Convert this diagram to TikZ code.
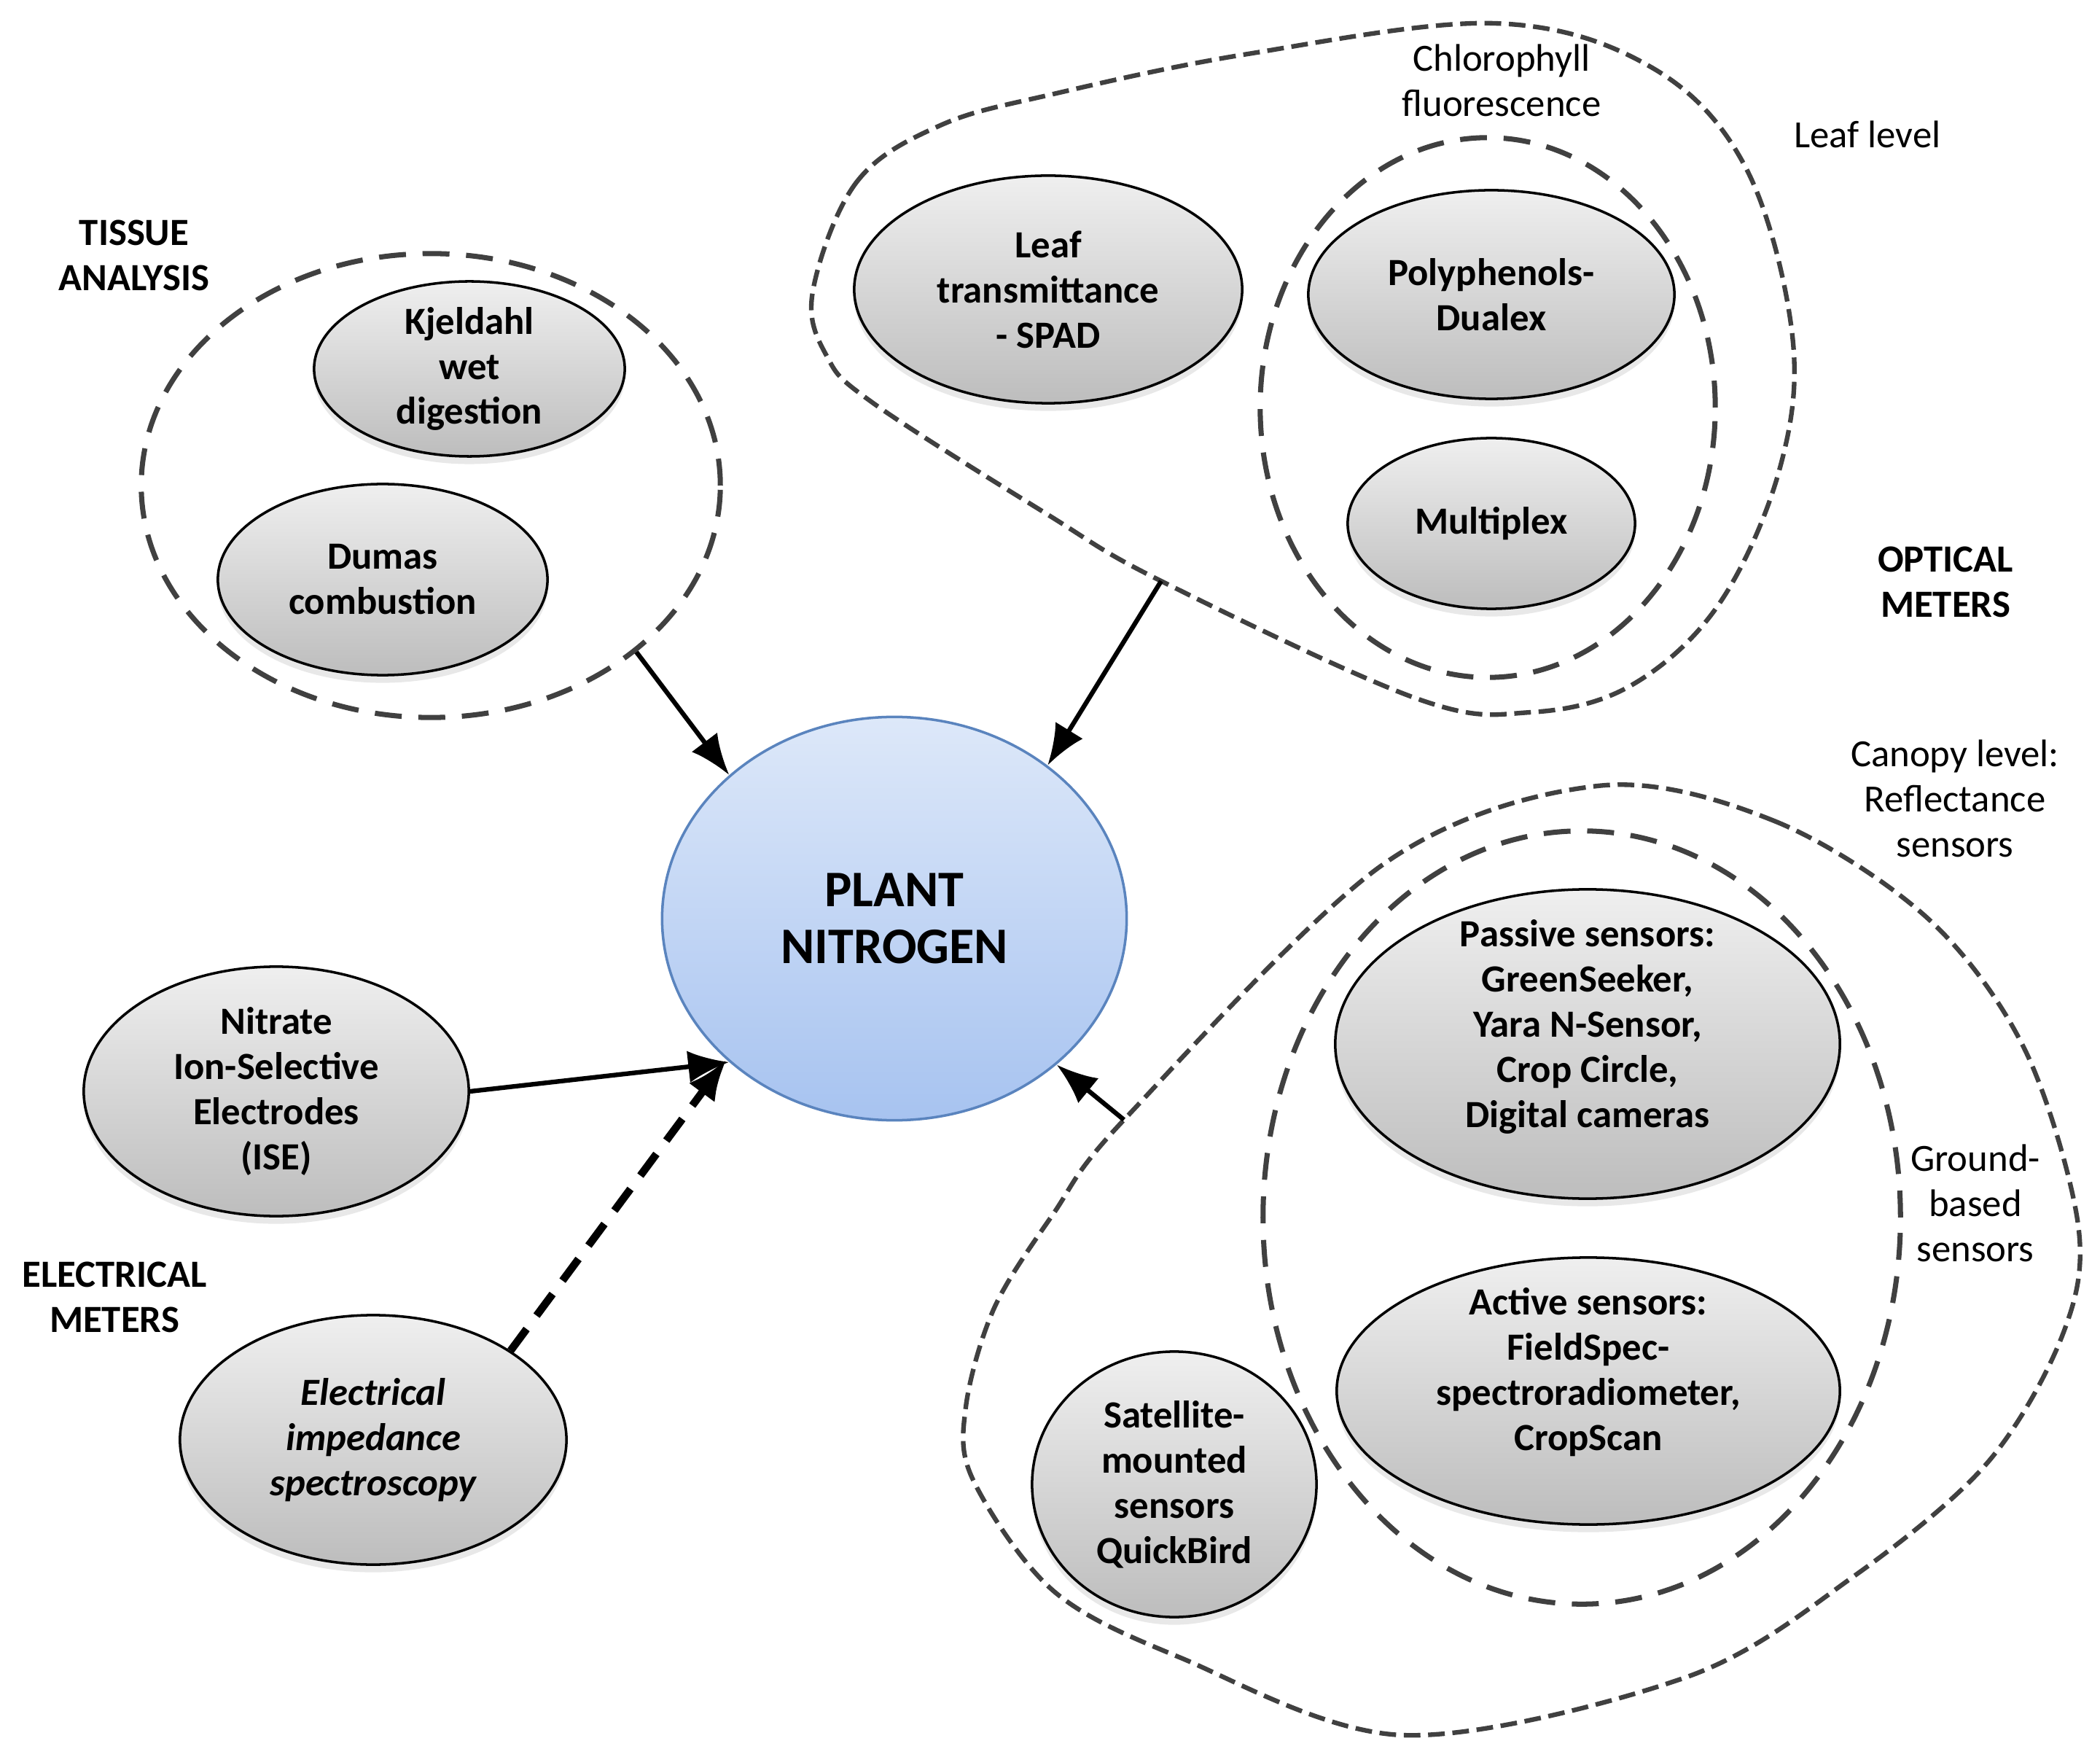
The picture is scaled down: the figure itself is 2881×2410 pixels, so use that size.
\documentclass[tikz,border=0pt]{standalone}
\usepackage{fontspec}
\setmainfont{Carlito}
\usetikzlibrary{shapes.geometric,arrows.meta,shadows}
\definecolor{dashgray}{HTML}{404040}
\definecolor{plantborder}{HTML}{5A84BE}
\definecolor{planttop}{HTML}{DDE8F9}
\definecolor{plantbot}{HTML}{A7C3F0}
\definecolor{ovtop}{HTML}{EFEFEF}
\definecolor{ovbot}{HTML}{BDBDBD}
\newcommand{\upstack}[2]{\raisebox{#1}[0pt][0pt]{\begin{tabular}{@{}c@{}}#2\end{tabular}}}
\begin{document}
\begin{tikzpicture}[x=0.01cm,y=-0.01cm,
  txt/.style={font=\fontsize{15}{17.6}\selectfont, align=center, inner sep=0pt},
  btxt/.style={font=\fontsize{15}{17.6}\selectfont\bfseries, align=center, inner sep=0pt},
  oval/.style={ellipse, draw=black, line width=1pt, top color=ovtop, bottom color=ovbot,
     inner sep=0pt, font=\fontsize{15}{17.6}\selectfont\bfseries, align=center,
     drop shadow={opacity=0.18, shadow xshift=0pt, shadow yshift=-3pt}},
  group/.style={ellipse, draw=dashgray, line width=2pt, dash pattern=on 10.5pt off 6.5pt, inner sep=0pt},
  outline/.style={draw=dashgray, line width=1.8pt, dash pattern=on 6.5pt off 3pt},
  arr/.style={draw=black, line width=1.8pt, -{Latex[length=16pt,width=12.5pt]}},
  darr/.style={draw=black, line width=3pt, dash pattern=on 10.5pt off 6.5pt, -{Latex[length=16pt,width=12.5pt]}}
]
\useasboundingbox (0,0) rectangle (2881,2410);
\fill[white] (0,0) rectangle (2881,2410);

% ---- dashed groupings ----
\node[group, minimum width=7.94cm, minimum height=6.36cm] (tissue) at (591,666) {};
\draw[outline] plot[smooth cycle, tension=0.6] coordinates {
  (1115,400) (1175,250) (1290,172) (1445,129) (1712,74) (2050,32) (2265,92) (2395,230)
  (2459,461) (2441,645) (2358,829) (2238,940) (2100,977) (1943,958) (1593,797)
  (1436,705) (1198,553) (1134,488)};
\coordinate (optstart) at (1593,797);
\node[group, minimum width=6.24cm, minimum height=7.40cm] (chloro) at (2041,559) {};
\draw[outline] plot[smooth cycle, tension=0.55] coordinates {
  (2192,1078) (2434,1126) (2645,1260) (2778,1440) (2851,1680) (2830,1830)
  (2726,2007) (2542,2163) (2312,2301) (1924,2380) (1620,2274) (1445,2182) (1335,2030)
  (1325,1930) (1364,1794) (1445,1665) (1542,1536) (1897,1186)};
\coordinate (canstart) at (1542,1536);
\node[group, minimum width=8.74cm, minimum height=10.60cm] (ground) at (2170,1670) {};

% ---- ovals ----
\node[oval, minimum width=4.26cm, minimum height=2.14cm] (kjel) at (644,506) {Kjeldahl\\wet\\digestion};
\node[oval, minimum width=4.52cm, minimum height=2.62cm] (dumas) at (525,795) {Dumas\\combustion};
\node[oval, minimum width=5.32cm, minimum height=3.12cm] (leaf) at (1438,397) {Leaf\\transmittance\\- SPAD};
\node[oval, minimum width=5.02cm, minimum height=2.86cm] (poly) at (2046,404) {Polyphenols-\\Dualex};
\node[oval, minimum width=3.94cm, minimum height=2.34cm] (multi) at (2046,718) {Multiplex};
\node[oval, minimum width=5.28cm, minimum height=3.42cm] (nitrate) at (379,1497) {Nitrate\\Ion-Selective\\Electrodes\\(ISE)};
\node[oval, minimum width=5.30cm, minimum height=3.42cm, font=\fontsize{15}{17.6}\selectfont\bfseries\itshape] (eis) at (512,1975) {Electrical\\impedance\\spectroscopy};
\node[oval, minimum width=6.92cm, minimum height=4.24cm] (passive) at (2178,1432)
  {\upstack{0.09cm}{Passive sensors:\\GreenSeeker,\\Yara N-Sensor,\\Crop Circle,\\Digital cameras}};
\node[oval, minimum width=6.90cm, minimum height=3.66cm] (active) at (2179,1908)
  {\upstack{0.11cm}{Active sensors:\\FieldSpec-\\spectroradiometer,\\CropScan}};
\node[oval, minimum width=3.90cm, minimum height=3.64cm] (sat) at (1611,2036) {Satellite-\\mounted\\sensors\\QuickBird};

\node[ellipse, draw=plantborder, line width=1pt, top color=planttop, bottom color=plantbot,
  minimum width=6.37cm, minimum height=5.53cm, inner sep=0pt, align=center,
  font=\fontsize{20}{22}\selectfont\bfseries] (plant) at (1227,1260) {PLANT\\NITROGEN};

% ---- labels ----
\node[btxt] (lt) at (184,350) {TISSUE\\ANALYSIS};
\node[txt] (lc) at (2060,110) {Chlorophyll\\fluorescence};
\node[txt] (ll) at (2562,184) {Leaf level};
\node[btxt] (lo) at (2669,798) {OPTICAL\\METERS};
\node[txt] (lcan) at (2682,1095) {Canopy level:\\Reflectance\\sensors};
\node[txt] (lg) at (2710,1650) {Ground-\\based\\sensors};
\node[btxt] (le) at (157,1779) {ELECTRICAL\\METERS};

% ---- arrows ----
\draw[arr] (tissue.-39) -- (plant.139);
\draw[arr] (optstart) -- (plant.45);
\draw[arr] (canstart) -- (plant.-42);
\draw[darr] (eis.33) -- (plant.220);
\draw[arr] (nitrate.east) -- (plant.221);
\end{tikzpicture}
\end{document}
